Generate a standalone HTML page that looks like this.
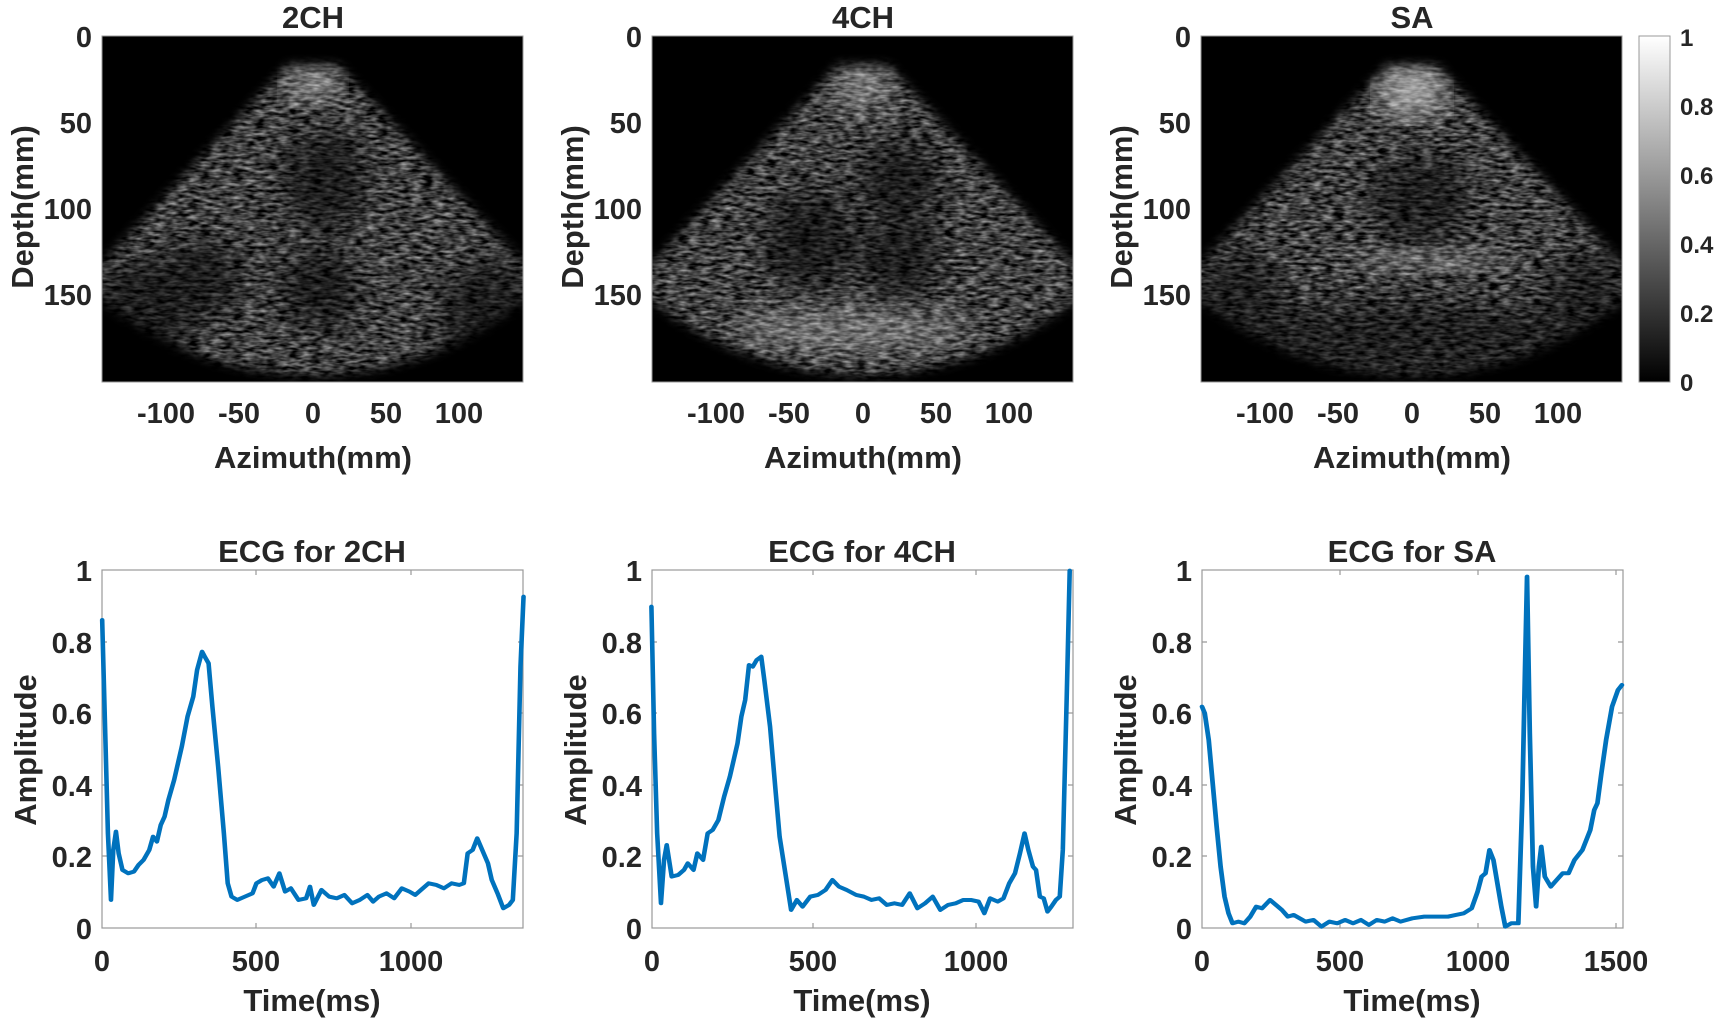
<!DOCTYPE html>
<html><head><meta charset="utf-8"><style>
html,body{margin:0;padding:0;background:#fff;}
svg{display:block;}
text{font-family:"Liberation Sans",Arial,sans-serif;font-weight:bold;fill:#262626;}
</style></head><body>
<svg width="1720" height="1026" viewBox="0 0 1720 1026" xmlns="http://www.w3.org/2000/svg">
<defs>
<filter id="sp" x="0" y="0" width="100%" height="100%" color-interpolation-filters="sRGB">
<feTurbulence type="fractalNoise" baseFrequency="0.09 0.3" numOctaves="2" seed="3"/>
<feColorMatrix type="matrix" values="1.0 0 0 0 -0.25  1.0 0 0 0 -0.25  1.0 0 0 0 -0.25  0 0 0 0 1"/>
</filter>
<filter id="bl"><feGaussianBlur stdDeviation="14"/></filter>
<filter id="bm"><feGaussianBlur stdDeviation="5"/></filter>
<linearGradient id="cb" x1="0" y1="1" x2="0" y2="0"><stop offset="0" stop-color="#000"/><stop offset="1" stop-color="#fff"/></linearGradient>
<clipPath id="c1"><rect x="102" y="36" width="421" height="346"/></clipPath>
<clipPath id="c2"><rect x="652" y="36" width="421" height="346"/></clipPath>
<clipPath id="c3"><rect x="1201" y="36" width="421" height="346"/></clipPath>
<mask id="m1" maskUnits="userSpaceOnUse" x="0" y="0" width="1720" height="500"><path d="M288,65 L338,65 L543,284 A337,337 0 0 1 83,284 Z" fill="#fff" filter="url(#bm)"/></mask>
<mask id="m2" maskUnits="userSpaceOnUse" x="0" y="0" width="1720" height="500"><path d="M838,65 L888,65 L1093,284 A337,337 0 0 1 633,284 Z" fill="#fff" filter="url(#bm)"/></mask>
<mask id="m3" maskUnits="userSpaceOnUse" x="0" y="0" width="1720" height="500"><path d="M1387,65 L1437,65 L1642,284 A337,337 0 0 1 1182,284 Z" fill="#fff" filter="url(#bm)"/></mask>
</defs>

<g clip-path="url(#c1)">
<rect x="102" y="36" width="421" height="346" fill="#000"/>
<g mask="url(#m1)">
<rect x="80" y="36" width="470" height="346" filter="url(#sp)"/>
<g filter="url(#bl)" opacity="0.55">
<ellipse cx="325" cy="180" rx="40" ry="50" fill="#000"/>
<ellipse cx="320" cy="290" rx="40" ry="40" fill="#000"/>
<ellipse cx="200" cy="280" rx="40" ry="40" fill="#000"/>
<ellipse cx="140" cy="320" rx="50" ry="60" fill="#000"/>
<ellipse cx="490" cy="320" rx="50" ry="60" fill="#000"/>
</g>
<g filter="url(#bl)" opacity="0.35"><ellipse cx="313" cy="80" rx="30" ry="25" fill="#fff"/></g>
</g></g>
<rect x="102" y="36" width="421" height="346" fill="none" stroke="#999" stroke-width="1"/>

<g clip-path="url(#c2)">
<rect x="652" y="36" width="421" height="346" fill="#000"/>
<g mask="url(#m2)">
<rect x="630" y="36" width="470" height="346" filter="url(#sp)"/>
<g filter="url(#bl)" opacity="0.55">
<ellipse cx="900" cy="180" rx="40" ry="40" fill="#000"/>
<ellipse cx="810" cy="240" rx="45" ry="50" fill="#000"/>
<ellipse cx="900" cy="260" rx="40" ry="40" fill="#000"/>
</g>
<g filter="url(#bl)" opacity="0.3"><ellipse cx="863" cy="85" rx="30" ry="30" fill="#fff"/><ellipse cx="850" cy="330" rx="120" ry="20" fill="#fff"/></g>
</g></g>
<rect x="652" y="36" width="421" height="346" fill="none" stroke="#999" stroke-width="1"/>

<g clip-path="url(#c3)">
<rect x="1201" y="36" width="421" height="346" fill="#000"/>
<g mask="url(#m3)">
<rect x="1180" y="36" width="470" height="346" filter="url(#sp)"/>
<g filter="url(#bl)" opacity="0.5">
<ellipse cx="1420" cy="200" rx="50" ry="45" fill="#000"/>
<ellipse cx="1412" cy="340" rx="170" ry="40" fill="#000"/>
<ellipse cx="1240" cy="320" rx="50" ry="70" fill="#000"/>
<ellipse cx="1590" cy="320" rx="50" ry="70" fill="#000"/>
</g>
<g filter="url(#bl)" opacity="0.5"><ellipse cx="1412" cy="90" rx="35" ry="30" fill="#fff"/></g>
<g filter="url(#bl)" opacity="0.3"><ellipse cx="1430" cy="260" rx="80" ry="12" fill="#fff"/></g>
</g></g>
<rect x="1201" y="36" width="421" height="346" fill="none" stroke="#999" stroke-width="1"/>

<rect x="1639" y="36" width="31" height="346" fill="url(#cb)" stroke="#999" stroke-width="1"/>
<g font-size="24" text-anchor="start">
<text x="1680" y="46">1</text><text x="1680" y="115">0.8</text><text x="1680" y="184">0.6</text>
<text x="1680" y="253">0.4</text><text x="1680" y="322">0.2</text><text x="1680" y="391">0</text>
</g>

<g font-size="31" text-anchor="middle">
<text x="313" y="28">2CH</text><text x="863" y="28">4CH</text><text x="1412" y="28">SA</text>
<text x="313" y="468">Azimuth(mm)</text><text x="863" y="468">Azimuth(mm)</text><text x="1412" y="468">Azimuth(mm)</text>
<text transform="translate(33,207) rotate(-90)">Depth(mm)</text>
<text transform="translate(583,207) rotate(-90)">Depth(mm)</text>
<text transform="translate(1132,207) rotate(-90)">Depth(mm)</text>
</g>
<g font-size="29" text-anchor="end">
<text x="92" y="47">0</text><text x="92" y="133">50</text><text x="92" y="219">100</text><text x="92" y="305">150</text>
<text x="642" y="47">0</text><text x="642" y="133">50</text><text x="642" y="219">100</text><text x="642" y="305">150</text>
<text x="1191" y="47">0</text><text x="1191" y="133">50</text><text x="1191" y="219">100</text><text x="1191" y="305">150</text>
</g>
<g font-size="29" text-anchor="middle">
<text x="166" y="423">-100</text><text x="239" y="423">-50</text><text x="313" y="423">0</text><text x="386" y="423">50</text><text x="459" y="423">100</text>
<text x="716" y="423">-100</text><text x="789" y="423">-50</text><text x="863" y="423">0</text><text x="936" y="423">50</text><text x="1009" y="423">100</text>
<text x="1265" y="423">-100</text><text x="1338" y="423">-50</text><text x="1412" y="423">0</text><text x="1485" y="423">50</text><text x="1558" y="423">100</text>
</g>

<g fill="none" stroke="#999" stroke-width="1.2">
<rect x="102" y="570" width="421" height="358"/>
<rect x="652" y="570" width="421" height="358"/>
<rect x="1202" y="570" width="421" height="358"/>
<path d="M256,928v-5M411,928v-5M256,570v5M411,570v5M102,856h5M102,785h5M102,713h5M102,642h5M523,856h-5M523,785h-5M523,713h-5M523,642h-5"/>
<path d="M813,928v-5M976,928v-5M813,570v5M976,570v5M652,856h5M652,785h5M652,713h5M652,642h5M1073,856h-5M1073,785h-5M1073,713h-5M1073,642h-5"/>
<path d="M1340,928v-5M1478,928v-5M1616,928v-5M1340,570v5M1478,570v5M1616,570v5M1202,856h5M1202,785h5M1202,713h5M1202,642h5M1623,856h-5M1623,785h-5M1623,713h-5M1623,642h-5"/>
</g>
<g font-size="31" text-anchor="middle">
<text x="312" y="562">ECG for 2CH</text><text x="862" y="562">ECG for 4CH</text><text x="1412" y="562">ECG for SA</text>
<text x="312" y="1011">Time(ms)</text><text x="862" y="1011">Time(ms)</text><text x="1412" y="1011">Time(ms)</text>
<text transform="translate(36,750) rotate(-90)">Amplitude</text>
<text transform="translate(586,750) rotate(-90)">Amplitude</text>
<text transform="translate(1136,750) rotate(-90)">Amplitude</text>
</g>
<g font-size="29" text-anchor="end">
<text x="92" y="581">1</text><text x="92" y="653">0.8</text><text x="92" y="724">0.6</text><text x="92" y="796">0.4</text><text x="92" y="867">0.2</text><text x="92" y="939">0</text>
<text x="642" y="581">1</text><text x="642" y="653">0.8</text><text x="642" y="724">0.6</text><text x="642" y="796">0.4</text><text x="642" y="867">0.2</text><text x="642" y="939">0</text>
<text x="1192" y="581">1</text><text x="1192" y="653">0.8</text><text x="1192" y="724">0.6</text><text x="1192" y="796">0.4</text><text x="1192" y="867">0.2</text><text x="1192" y="939">0</text>
</g>
<g font-size="29" text-anchor="middle">
<text x="102" y="971">0</text><text x="256" y="971">500</text><text x="411" y="971">1000</text>
<text x="652" y="971">0</text><text x="813" y="971">500</text><text x="976" y="971">1000</text>
<text x="1202" y="971">0</text><text x="1340" y="971">500</text><text x="1478" y="971">1000</text><text x="1616" y="971">1500</text>
</g>

<g fill="none" stroke="#0072BD" stroke-width="12" stroke-linejoin="round" stroke-linecap="round">
<polyline transform="translate(0,500) scale(0.3827,0.3333)" points="267,360 275,700 282,1000 290,1200 296,1050 303,995 310,1060 320,1110 335,1120 350,1115 362,1095 375,1080 390,1050 400,1010 410,1025 420,975 430,950 440,900 455,840 465,790 475,740 490,650 505,590 515,510 528,455 535,470 545,490 555,620 570,800 585,1000 595,1150 605,1190 620,1200 640,1190 660,1180 670,1150 685,1140 700,1135 715,1160 730,1120 745,1175 760,1165 780,1200 800,1195 810,1160 820,1215 840,1170 860,1190 880,1195 900,1185 920,1210 940,1200 960,1185 975,1205 990,1190 1010,1180 1030,1195 1050,1165 1070,1175 1085,1185 1100,1170 1120,1150 1140,1155 1160,1165 1180,1150 1200,1155 1212,1150 1222,1060 1235,1050 1247,1015 1260,1050 1275,1090 1285,1140 1300,1180 1315,1225 1330,1215 1340,1200 1350,1000 1360,500 1368,290"/>
<polyline transform="translate(550,500) scale(0.3827,0.3333)" points="265,320 272,700 280,1000 290,1210 298,1080 305,1035 318,1130 335,1125 350,1110 360,1090 375,1110 385,1060 400,1080 412,1000 425,990 440,960 455,890 470,830 480,780 490,730 500,650 510,600 520,495 530,500 540,480 552,470 560,540 575,680 590,880 600,1010 615,1120 630,1230 645,1200 660,1220 680,1190 700,1185 720,1170 738,1140 755,1160 775,1170 800,1185 820,1190 840,1200 860,1195 880,1215 900,1210 920,1215 940,1180 960,1225 980,1210 1000,1190 1020,1230 1040,1215 1060,1210 1080,1200 1100,1200 1120,1205 1135,1240 1150,1195 1170,1205 1185,1195 1200,1150 1215,1120 1228,1060 1240,1000 1250,1050 1262,1100 1270,1110 1280,1190 1290,1195 1300,1235 1310,1220 1322,1200 1332,1190 1340,1050 1350,600 1358,212"/>
<polyline transform="translate(1100,500) scale(0.3954,0.3333)" points="258,620 265,640 275,720 285,850 295,980 305,1100 315,1190 325,1240 335,1270 350,1265 365,1270 380,1250 395,1220 410,1225 430,1200 445,1215 460,1230 475,1250 490,1245 505,1255 520,1265 540,1260 560,1280 580,1265 600,1270 620,1260 640,1270 660,1260 680,1275 700,1260 720,1265 740,1255 760,1265 790,1255 820,1250 850,1250 880,1250 900,1245 920,1240 940,1225 955,1175 965,1130 975,1120 985,1050 995,1080 1005,1150 1015,1220 1025,1280 1040,1270 1058,1270 1068,900 1075,500 1080,230 1087,700 1095,1100 1103,1220 1110,1100 1116,1040 1125,1130 1140,1160 1155,1140 1170,1120 1185,1120 1200,1080 1220,1050 1240,990 1250,930 1258,910 1268,820 1280,720 1295,620 1310,570 1320,555"/>
</g>
</svg>
</body></html>
